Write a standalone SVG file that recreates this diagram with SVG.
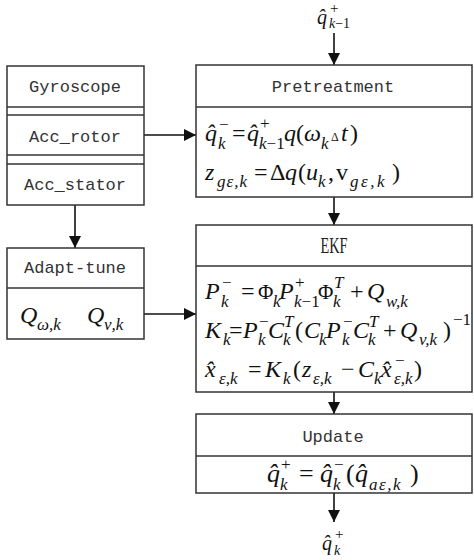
<svg xmlns="http://www.w3.org/2000/svg" width="474" height="560" viewBox="0 0 474 560">
<style>
.b{fill:#fff;stroke:#333;stroke-width:1.5}
.ln{fill:none;stroke:#333;stroke-width:1.5}
.c{stroke:#111;stroke-width:1.6;fill:none}
.t{font-family:"Liberation Mono",monospace;font-size:17px;fill:#333}
.m{font-family:"Liberation Serif",serif;font-style:italic;font-size:24px;fill:#111}
.r{font-style:normal}
.s{font-size:17px}
.f{font-size:21px;font-style:normal}
</style>
<defs>
<marker id="ah" markerUnits="userSpaceOnUse" markerWidth="12" markerHeight="12" viewBox="0 0 12 12" refX="12" refY="6" orient="auto">
<path d="M0,0 L12,6 L0,12 Z" fill="#111"/>
</marker>
</defs>
<rect width="474" height="560" fill="#fff"/>

<g id="connectors">
<line class="c" x1="334" y1="33" x2="334" y2="65" marker-end="url(#ah)"/>
<line class="c" x1="144" y1="135" x2="196" y2="135" marker-end="url(#ah)"/>
<line class="c" x1="75" y1="205" x2="75" y2="248" marker-end="url(#ah)"/>
<line class="c" x1="144" y1="314" x2="196" y2="314" marker-end="url(#ah)"/>
<line class="c" x1="334" y1="197" x2="334" y2="225" marker-end="url(#ah)"/>
<line class="c" x1="334" y1="392" x2="334" y2="414" marker-end="url(#ah)"/>
<line class="c" x1="334" y1="493" x2="334" y2="522" marker-end="url(#ah)"/>
</g>

<g id="sensors">
<rect class="b" x="7" y="66" width="137" height="139"/>
<line class="ln" x1="7" y1="107" x2="144" y2="107"/>
<line class="ln" x1="7" y1="115" x2="144" y2="115"/>
<line class="ln" x1="7" y1="155" x2="144" y2="155"/>
<line class="ln" x1="7" y1="164" x2="144" y2="164"/>
<text class="t" x="75" y="92" text-anchor="middle">Gyroscope</text>
<text class="t" x="75" y="142" text-anchor="middle">Acc_rotor</text>
<text class="t" x="75" y="190" text-anchor="middle">Acc_stator</text>
</g>

<g id="adapt-tune">
<rect class="b" x="7" y="248" width="137" height="91"/>
<line class="ln" x1="7" y1="288" x2="144" y2="288"/>
<text class="t" x="75" y="273" text-anchor="middle">Adapt-tune</text>
<text class="m"><tspan x="20" y="323">Q</tspan><tspan class="s" x="37" y="330">ω,k</tspan><tspan x="87" y="323">Q</tspan><tspan class="s" x="104" y="330">ν,k</tspan></text>
</g>

<g id="input-label">
<text class="m" style="font-size:20px"><tspan x="317" y="24">q̂</tspan><tspan class="r" style="font-size:15px;fill:#111" x="330" y="13">+</tspan><tspan style="font-size:14px" x="329" y="28">k<tspan class="r">−1</tspan></tspan></text>
</g>

<g id="pretreatment">
<rect class="b" x="196" y="65" width="276" height="132"/>
<line class="ln" x1="196" y1="107" x2="472" y2="107"/>
<text class="t" x="333" y="92" text-anchor="middle">Pretreatment</text>
<text class="m">
<tspan x="205" y="141">q̂</tspan><tspan class="r s" x="219" y="130">−</tspan><tspan class="s" x="218" y="149">k</tspan>
<tspan class="r" x="232" y="141">=</tspan>
<tspan x="247" y="141">q̂</tspan><tspan class="r s" x="260" y="129">+</tspan><tspan class="s" x="259" y="149">k<tspan class="r">−1</tspan></tspan>
<tspan x="284" y="141">q</tspan><tspan class="r" x="296" y="141">(</tspan><tspan x="304" y="141">ω</tspan><tspan class="s" x="321" y="149">k</tspan><tspan class="r" style="font-size:12px" x="331" y="141">Δ</tspan><tspan x="341" y="141">t</tspan><tspan class="r" x="350" y="141">)</tspan>
</text>
<text class="m">
<tspan x="205" y="180">z</tspan><tspan class="s" x="217" y="187" style="letter-spacing:1px">gε,k</tspan>
<tspan class="r" x="254" y="180">=</tspan>
<tspan class="r" x="270" y="180">Δ</tspan><tspan x="285" y="180">q</tspan><tspan class="r" x="298" y="180">(</tspan><tspan x="306" y="180">u</tspan><tspan class="s" x="318" y="187">k</tspan><tspan class="r" x="328" y="180">,</tspan><tspan class="r" x="336" y="180">v</tspan><tspan class="s" x="350" y="187" style="letter-spacing:2.5px">gε,k</tspan><tspan class="r" x="392" y="180">)</tspan>
</text>
</g>

<g id="ekf">
<rect class="b" x="196" y="225" width="276" height="167"/>
<line class="ln" x1="196" y1="266" x2="472" y2="266"/>
<text x="334" y="253" text-anchor="middle" textLength="27" lengthAdjust="spacingAndGlyphs" style="font-family:'Liberation Serif',serif;font-size:24px;fill:#222">EKF</text>
<text class="m">
<tspan x="205" y="299">P</tspan><tspan class="r s" x="222" y="288">−</tspan><tspan class="s" x="221" y="307">k</tspan>
<tspan class="r" x="241" y="299">=</tspan>
<tspan class="f" x="258" y="299">Φ</tspan><tspan class="s" x="273" y="307">k</tspan>
<tspan x="279" y="299">P</tspan><tspan class="r s" x="295" y="288">+</tspan><tspan class="s" x="294" y="307">k<tspan class="r">−1</tspan></tspan>
<tspan class="f" x="318" y="299">Φ</tspan><tspan class="s" x="334" y="288">T</tspan><tspan class="s" x="333" y="307">k</tspan>
<tspan class="r" x="350" y="299">+</tspan>
<tspan x="367" y="299">Q</tspan><tspan class="s" x="386" y="307">w,k</tspan>
</text>
<text class="m">
<tspan x="205" y="338">K</tspan><tspan class="s" x="223" y="345">k</tspan>
<tspan class="r" x="229" y="338">=</tspan>
<tspan x="243" y="338">P</tspan><tspan class="r s" x="259" y="327">−</tspan><tspan class="s" x="258" y="345">k</tspan>
<tspan x="268" y="338">C</tspan><tspan class="s" x="284" y="327">T</tspan><tspan class="s" x="283" y="345">k</tspan>
<tspan class="r" x="295" y="338">(</tspan><tspan x="304" y="338">C</tspan><tspan class="s" x="319" y="345">k</tspan>
<tspan x="326" y="338">P</tspan><tspan class="r s" x="343" y="327">−</tspan><tspan class="s" x="342" y="345">k</tspan>
<tspan x="353" y="338">C</tspan><tspan class="s" x="369" y="327">T</tspan><tspan class="s" x="368" y="345">k</tspan>
<tspan class="r" x="383" y="338">+</tspan>
<tspan x="400" y="338">Q</tspan><tspan class="s" x="419" y="345">v,k</tspan>
<tspan class="r" x="443" y="338">)</tspan><tspan class="r s" x="453" y="325">−1</tspan>
</text>
<text class="m">
<tspan x="205" y="377">x̂</tspan><tspan class="s" x="219" y="384">ε,k</tspan>
<tspan class="r" x="248" y="377">=</tspan>
<tspan x="265" y="377">K</tspan><tspan class="s" x="283" y="384">k</tspan>
<tspan class="r" x="293" y="377">(</tspan><tspan x="302" y="377">z</tspan><tspan class="s" x="313" y="384">ε,k</tspan>
<tspan class="r" x="341" y="377">−</tspan>
<tspan x="358" y="377">C</tspan><tspan class="s" x="374" y="384">k</tspan>
<tspan x="381" y="377">x̂</tspan><tspan class="r s" x="395" y="366">−</tspan><tspan class="s" x="394" y="384">ε,k</tspan>
<tspan class="r" x="414" y="377">)</tspan>
</text>
</g>

<g id="update">
<rect class="b" x="196" y="414" width="276" height="79"/>
<line class="ln" x1="196" y1="456" x2="472" y2="456"/>
<text class="t" x="333" y="442" text-anchor="middle">Update</text>
<text class="m" style="font-size:26px">
<tspan x="267" y="482">q̂</tspan><tspan class="r s" x="281" y="470">+</tspan><tspan class="s" x="280" y="490">k</tspan>
<tspan class="r" x="299" y="482">=</tspan>
<tspan x="320" y="482">q̂</tspan><tspan class="r s" x="334" y="470">−</tspan><tspan class="s" x="333" y="490">k</tspan>
<tspan class="r" x="346" y="482">(</tspan><tspan x="355" y="482">q̂</tspan><tspan class="s" x="369" y="490" style="letter-spacing:1.5px">aε,k</tspan><tspan class="r" x="410" y="482">)</tspan>
</text>
</g>

<g id="output-label">
<text class="m" style="font-size:20px"><tspan x="322" y="550">q̂</tspan><tspan class="r" style="font-size:15px;fill:#111" x="335" y="539">+</tspan><tspan style="font-size:14px" x="334" y="555">k</tspan></text>
</g>
</svg>
